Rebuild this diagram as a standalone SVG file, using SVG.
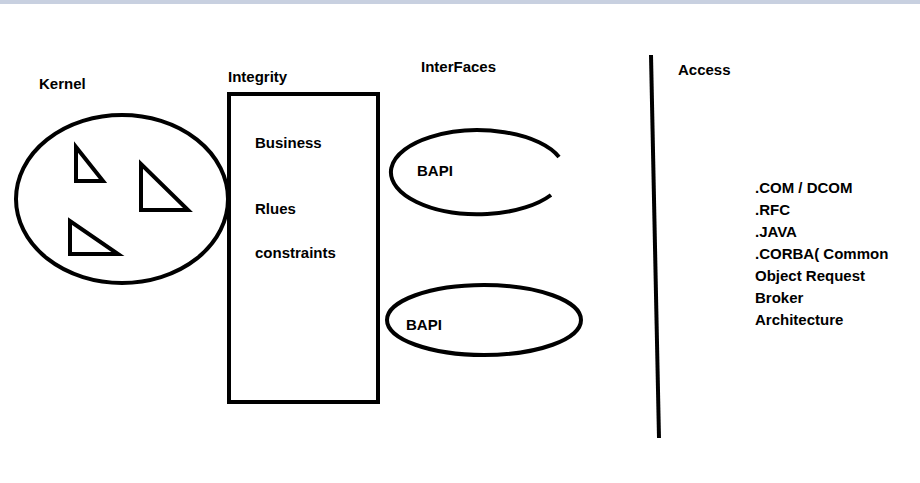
<svg xmlns="http://www.w3.org/2000/svg" width="920" height="483" viewBox="0 0 920 483">
<style>
.s{fill:none;stroke:#000;stroke-width:4}
text{font-family:"Liberation Sans",Arial,sans-serif;font-weight:bold;font-size:15px;fill:#000}
</style>
<rect width="920" height="483" fill="#fff"/>
<rect width="920" height="4" fill="#c8d0e0"/>
<g id="kernel">
<text x="39" y="89">Kernel</text>
<ellipse class="s" cx="122" cy="199" rx="106" ry="84"/>
<polygon class="s" points="76,147 76,181 103,181"/>
<polygon class="s" points="141,164 141,210 188,210"/>
<polygon class="s" points="70,221 70,254 118,254"/>
</g>
<g id="integrity">
<text x="228" y="82">Integrity</text>
<rect class="s" x="229" y="94" width="149" height="308"/>
<text x="255" y="148">Business</text>
<text x="255" y="214">Rlues</text>
<text x="255" y="258">constraints</text>
</g>
<g id="interfaces">
<text x="421" y="72">InterFaces</text>
</g>
<g id="bapi1">
<path class="s" d="M559,157 A87,42 0 1 0 551,195"/>
<text x="417" y="176">BAPI</text>
</g>
<g id="bapi2">
<ellipse class="s" cx="484" cy="320" rx="97" ry="35"/>
<text x="406" y="330">BAPI</text>
</g>
<g id="connectors">
<line class="s" x1="651" y1="55" x2="659" y2="438"/>
</g>
<g id="access">
<text x="678" y="75">Access</text>
<text x="755" y="193">.COM / DCOM</text>
<text x="755" y="215">.RFC</text>
<text x="755" y="237">.JAVA</text>
<text x="755" y="259">.CORBA( Common</text>
<text x="755" y="281">Object Request</text>
<text x="755" y="303">Broker</text>
<text x="755" y="325">Architecture</text>
</g>
</svg>
